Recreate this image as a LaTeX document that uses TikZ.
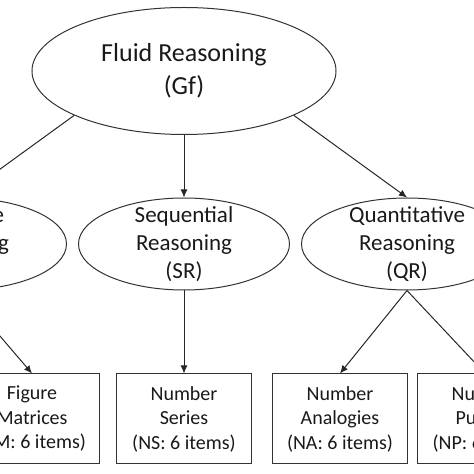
\documentclass[tikz,border=0pt]{standalone}
\usepackage{fontspec}
\setmainfont{Carlito}
\usetikzlibrary{shapes.geometric,arrows.meta}

\begin{document}
\begin{tikzpicture}[x=1pt, y=1pt, node distance=223pt, auto,
    factor/.style={ellipse, draw=black!80, line width=1pt, text=black!90,
    align=center, minimum width=211pt, minimum height=92pt,
    inner xsep=0pt, inner ysep=-10pt, font=\fontsize{23}{28}\selectfont},
    topfactor/.style={factor, minimum width=304pt, minimum height=127pt,
    font=\fontsize{26}{33}\selectfont},
    block/.style={rectangle, draw=black!80, line width=1pt, text=black!90,
    align=center, minimum width=135pt, minimum height=90pt, inner sep=0pt,
    font=\fontsize{20}{24.5}\selectfont},
    line/.style={draw=black!85, line width=1pt, -{Latex[length=8pt,width=7pt]}}]

\useasboundingbox (0,0) rectangle (474,474);
\clip (0,0) rectangle (474,474);

\node [topfactor] (gf) at (184,403) {Fluid Reasoning\\(Gf)};
\node [factor, below of=gf, node distance=173pt] (sr) {Sequential\\Reasoning\\(SR)};
\node [factor, right of=sr] (qr) {Quantitative\\Reasoning\\(QR)};
\node [factor, left of=sr] (ir) {Inductive\\Reasoning\\(IR)};
\node [block, below of=sr, node distance=175pt] (ns) {Number\\Series\\(NS: 6 items)};
\node [block, right of=ns, node distance=156pt] (na) {Number\\Analogies\\(NA: 6 items)};
\node [block, right of=na, node distance=145pt] (np) {Number\\Puzzles\\(NP: 6 items)};
\node [block, left of=ns, node distance=152pt] (fm) {Figure\\Matrices\\(FM: 6 items)};

\path [line] (gf.-158) -- (ir.north);
\path [line] (gf) -- (sr);
\path [line] (gf.-22) -- (qr.north);
\path [line] (ir.south) -- (fm.north);
\path [line] (sr) -- (ns);
\path [line] (qr.south) -- (na.north);
\path [line] (qr.south) -- (np.north);
\end{tikzpicture}
\end{document}
